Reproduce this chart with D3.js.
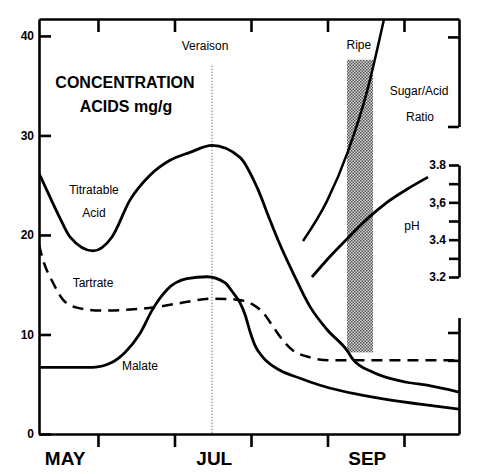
<!DOCTYPE html>
<html>
<head>
<meta charset="utf-8">
<script src="https://cdn.jsdelivr.net/npm/d3@7"></script>
<style>
  body { margin: 0; background: #fff; }
  svg { display: block; font-family: "Liberation Sans", Arial, sans-serif; }
</style>
</head>
<body>
<div class="acid_chart"></div>
<script>
// time in months counted from 1 May (1 = 1 Jun, 2 = 1 Jul ...)
const titratable = [
  [0.229, 26.2], [0.373, 23.8], [0.503, 21.7], [0.634, 19.8], [0.935, 18.4],
  [1.183, 19.8], [1.418, 23.5], [1.680, 26.0], [1.941, 27.5], [2.203, 28.3],
  [2.490, 29.0], [2.856, 27.8], [3.078, 24.8], [3.248, 21.5], [3.353, 19.5],
  [3.549, 16.2], [3.771, 12.8], [3.993, 10.5], [4.255, 8.4], [4.333, 7.5],
  [4.595, 6.2], [5.039, 5.2], [5.301, 4.9], [5.719, 4.2]
];
const malate = [
  [0.229, 6.7], [0.935, 6.7], [1.157, 7.1], [1.353, 8.2], [1.549, 10.1],
  [1.719, 12.6], [1.902, 14.5], [2.163, 15.6], [2.425, 15.8], [2.660, 15.2],
  [2.765, 14.2], [2.856, 13.2], [2.922, 12.0], [2.987, 10.3], [3.052, 8.9],
  [3.157, 7.7], [3.379, 6.4], [3.641, 5.6], [3.902, 4.9], [4.595, 3.7],
  [5.209, 3.0], [5.719, 2.5]
];
const tartrate = [
  [0.229, 19.0], [0.281, 17.5], [0.412, 15.2], [0.542, 13.5], [0.725, 12.7],
  [1.026, 12.4], [1.418, 12.5], [1.719, 12.7], [2.033, 13.1], [2.503, 13.6],
  [2.817, 13.5], [3.026, 13.0], [3.157, 12.2], [3.288, 10.8], [3.418, 9.4],
  [3.549, 8.4], [3.771, 7.7], [4.033, 7.4], [5.719, 7.4]
];
// sugar/acid ratio has no scale of its own, drawn on the acid scale
const sugarAcid = [
  [3.680, 19.4], [3.993, 23.4], [4.268, 28.4], [4.516, 34.4], [4.739, 41.7]
];
const ph = [
  [3.797, 3.20], [4.033, 3.31], [4.294, 3.42], [4.516, 3.51],
  [4.778, 3.60], [5.039, 3.67], [5.314, 3.735]
];

const yTicks = [0, 10, 20, 30, 40];
const monthTicks = [1, 2, 3, 4, 5];
const monthNames = ["MAY", "JUL", "SEP"];
const monthPos = [0.57, 2.52, 4.52];
const phTicks = [3.2, 3.3, 3.4, 3.5, 3.6, 3.7, 3.8];
const phLabels = {"3.2": "3.2", "3.4": "3.4", "3.6": "3,6", "3.8": "3.8"};
const ratioTicks = [39.9, 30.9];
const lowTicks = [10.2, 7.4];
const veraison = 2.49;
const ripe = [4.255, 4.595, 8.2, 37.6];

const width = 480, height = 474;
const svg = d3.select(".acid_chart")
  .append("svg")
  .attr("width", width)
  .attr("height", height);

const x = d3.scaleLinear().domain([0.229, 5.719]).range([39, 459]);
const y = d3.scaleLinear().domain([0, 41.7]).range([434, 19]);
const yPh = d3.scaleLinear().domain([3.2, 3.8]).range([277, 165]);

// stipple pattern for the ripe window
const defs = svg.append("defs");
const pat = defs.append("pattern")
  .attr("id", "stipple")
  .attr("patternUnits", "userSpaceOnUse")
  .attr("width", 3).attr("height", 3);
pat.append("rect").attr("width", 3).attr("height", 3).attr("fill", "#d6d6d6");
pat.append("rect").attr("width", 1.5).attr("height", 1.5).attr("fill", "#555");
pat.append("rect").attr("x", 1.5).attr("y", 1.5).attr("width", 1.5).attr("height", 1.5).attr("fill", "#555");

defs.append("clipPath").attr("id", "plot")
  .append("rect").attr("x", 39).attr("y", 19).attr("width", 420).attr("height", 415);

svg.append("rect")
  .attr("x", x(ripe[0]))
  .attr("y", y(ripe[3]))
  .attr("width", x(ripe[1]) - x(ripe[0]))
  .attr("height", y(ripe[2]) - y(ripe[3]))
  .attr("fill", "url(#stipple)");

// veraison marker
svg.append("line")
  .attr("x1", x(veraison)).attr("x2", x(veraison))
  .attr("y1", y(37)).attr("y2", y(0))
  .attr("stroke", "#444")
  .attr("stroke-width", 1)
  .attr("stroke-dasharray", "1,2");

// axes
function styleAxis(g) {
  g.selectAll("path, line").attr("stroke", "#000").attr("stroke-width", 2.6);
  g.selectAll("text").attr("fill", "#000");
}

svg.append("g")
  .attr("transform", "translate(39,0)")
  .call(d3.axisLeft(y).tickValues(yTicks).tickSizeInner(-12).tickSizeOuter(0).tickPadding(5))
  .call(styleAxis)
  .call(g => g.selectAll("text").style("font-size", "12px").style("font-weight", "bold"));

svg.append("g")
  .attr("transform", "translate(0,434)")
  .call(d3.axisBottom(x).tickValues(monthTicks).tickSize(13).tickSizeOuter(0).tickFormat(""))
  .call(styleAxis);

svg.append("g")
  .attr("transform", "translate(0,19)")
  .call(d3.axisTop(x).tickValues(monthTicks).tickSizeInner(-13).tickSizeOuter(0).tickFormat(""))
  .call(styleAxis);

// right side: three separate axis pieces
const yRatio = d3.scaleLinear().domain([30.9, 41.7]).range([y(30.9), y(41.7)]);
svg.append("g")
  .attr("transform", "translate(459,0)")
  .call(d3.axisLeft(yRatio).tickValues(ratioTicks).tickSize(11).tickSizeOuter(0).tickFormat(""))
  .call(styleAxis);

const yLow = d3.scaleLinear().domain([0, 11.7]).range([y(0), y(11.7)]);
svg.append("g")
  .attr("transform", "translate(459,0)")
  .call(d3.axisLeft(yLow).tickValues(lowTicks).tickSize(11).tickSizeOuter(0).tickFormat(""))
  .call(styleAxis);

svg.append("g")
  .attr("transform", "translate(459,0)")
  .call(d3.axisLeft(yPh).tickValues(phTicks).tickSize(10).tickSizeOuter(0).tickPadding(3)
    .tickFormat(d => phLabels[d.toFixed(1)] || ""))
  .call(styleAxis)
  .call(g => g.selectAll("text").style("font-size", "12px").style("font-weight", "bold"));

// month names
svg.selectAll(".month")
  .data(monthNames)
  .enter()
  .append("text")
  .attr("x", (d, i) => x(monthPos[i]))
  .attr("y", 465)
  .attr("text-anchor", "middle")
  .style("font-size", "19px")
  .style("font-weight", "bold")
  .text(d => d);

// curves
const line = d3.line()
  .x(d => x(d[0]))
  .y(d => y(d[1]))
  .curve(d3.curveMonotoneX);

const plot = svg.append("g").attr("clip-path", "url(#plot)");

plot.append("path").datum(titratable)
  .attr("d", line).attr("fill", "none").attr("stroke", "#000").attr("stroke-width", 2.8);
plot.append("path").datum(malate)
  .attr("d", line).attr("fill", "none").attr("stroke", "#000").attr("stroke-width", 2.8);
plot.append("path").datum(tartrate)
  .attr("d", line).attr("fill", "none").attr("stroke", "#000").attr("stroke-width", 2.5)
  .attr("stroke-dasharray", "11,7");
plot.append("path").datum(sugarAcid)
  .attr("d", line).attr("fill", "none").attr("stroke", "#000").attr("stroke-width", 2.5);
plot.append("path").datum(ph)
  .attr("d", d3.line().x(d => x(d[0])).y(d => yPh(d[1])).curve(d3.curveMonotoneX))
  .attr("fill", "none").attr("stroke", "#000").attr("stroke-width", 2.8);

// annotations
const notes = [
  {t: "Veraison", m: 2.40, v: 39.0, s: 12, w: "normal"},
  {t: "Ripe", m: 4.41, v: 39.1, s: 12, w: "normal"},
  {t: "CONCENTRATION", m: 1.353, v: 35.3, s: 16, w: "bold"},
  {t: "ACIDS mg/g", m: 1.366, v: 32.9, s: 16, w: "bold"},
  {t: "Titratable", m: 0.948, v: 24.5, s: 12, w: "normal"},
  {t: "Acid", m: 0.948, v: 22.2, s: 12, w: "normal"},
  {t: "Tartrate", m: 0.935, v: 15.2, s: 12, w: "normal"},
  {t: "Malate", m: 1.549, v: 6.9, s: 12, w: "normal"},
  {t: "Sugar/Acid", m: 5.196, v: 34.5, s: 12, w: "normal"},
  {t: "Ratio", m: 5.209, v: 31.9, s: 12, w: "normal"}
];
svg.selectAll(".note")
  .data(notes)
  .enter()
  .append("text")
  .attr("x", d => x(d.m))
  .attr("y", d => y(d.v))
  .attr("dy", "0.36em")
  .attr("text-anchor", "middle")
  .style("font-size", d => d.s + "px")
  .style("font-weight", d => d.w)
  .text(d => d.t);

svg.append("text")
  .attr("x", x(5.105))
  .attr("y", yPh(3.473))
  .attr("dy", "0.36em")
  .attr("text-anchor", "middle")
  .style("font-size", "12px")
  .text("pH");
</script>
</body>
</html>
